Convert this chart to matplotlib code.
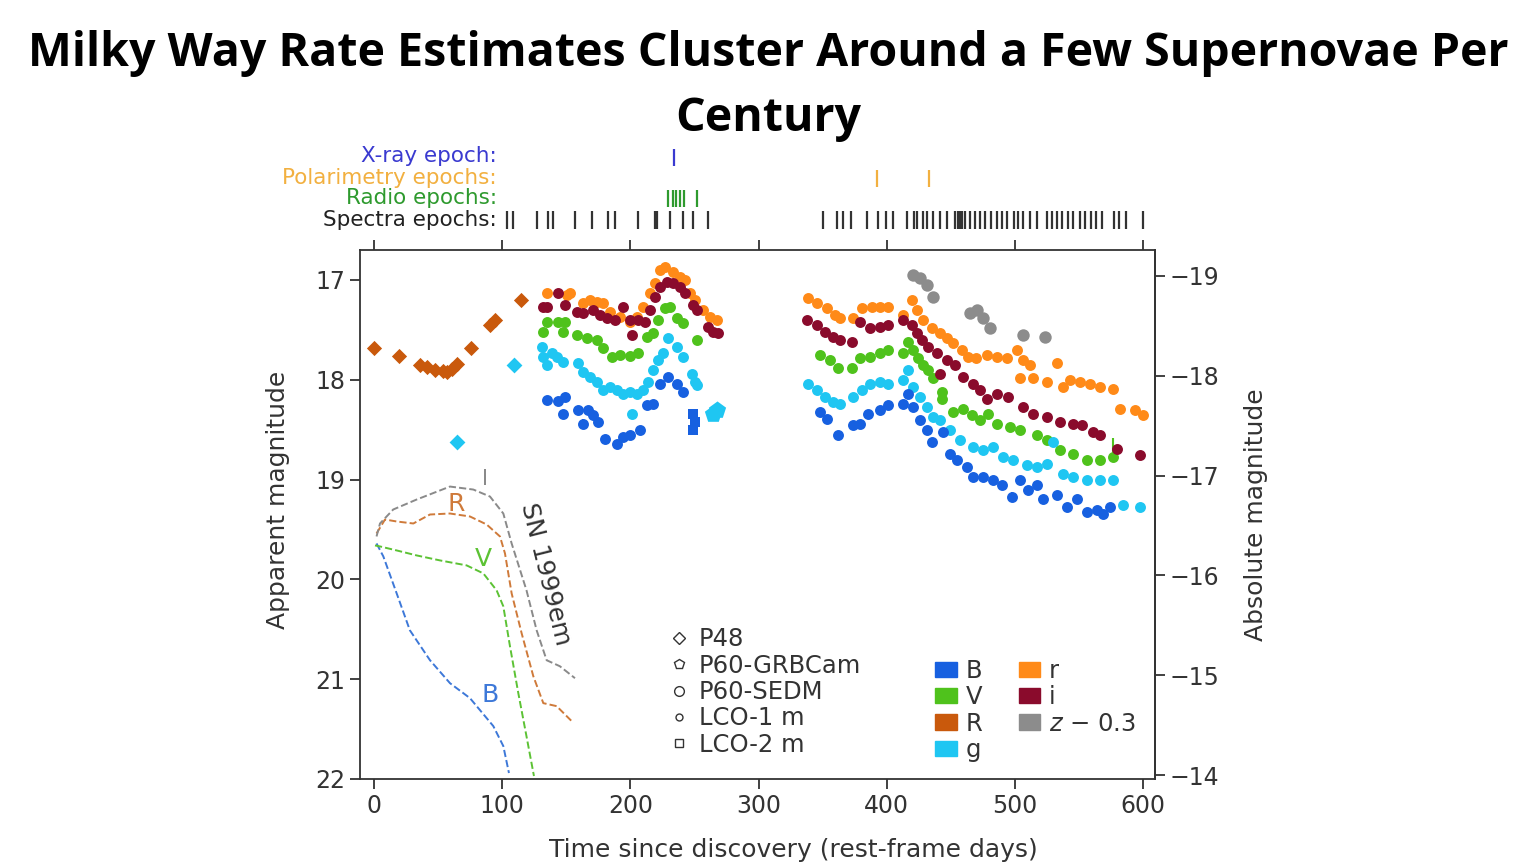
import numpy as np
import matplotlib
matplotlib.use('Agg')
import matplotlib.pyplot as plt
from matplotlib.lines import Line2D
from matplotlib.patches import Patch

plt.rcParams['font.family'] = ['DejaVu Sans']

# ---- photometry (rest-frame days, apparent mag) ----
R_day = [0, 19.8, 36, 41, 47.6, 54, 57, 60.6, 64.5, 75.7, 90.5, 94.4, 115]
R_mag = [17.68, 17.76, 17.85, 17.87, 17.90, 17.91, 17.92, 17.89, 17.84, 17.68, 17.45, 17.40, 17.20]

gP48_day = [64.5, 109]
gP48_mag = [18.62, 17.85]

r_day = [134.7, 150.3, 153, 163.3, 168.5, 173.7, 179, 184, 192, 199.7, 205, 210, 215.3, 219.2,
         223, 227, 233.5, 238.7, 242.6, 246.5, 250.4, 257, 262, 267.4,
         338.9, 345.4, 353.2, 359.7, 363.6, 374, 380.5, 388.3, 394.8, 401.3, 413, 419.5, 423.4,
         428.6, 435, 441.6, 446.8, 452, 458.5, 463.7, 470, 478, 485.8, 493.6, 501.4, 506.6,
         511.8, 504, 514.4, 524.8, 532.6, 537.8, 543, 550.8, 558.6, 566.4, 576.8, 582, 593.7, 600.2]
r_mag = [17.13, 17.15, 17.13, 17.23, 17.20, 17.22, 17.23, 17.32, 17.37, 17.42, 17.37, 17.27, 17.13, 17.03,
         16.90, 16.87, 16.92, 16.97, 17.00, 17.13, 17.20, 17.30, 17.37, 17.40,
         17.18, 17.23, 17.28, 17.35, 17.38, 17.38, 17.28, 17.27, 17.27, 17.27, 17.35, 17.20, 17.30,
         17.40, 17.48, 17.53, 17.58, 17.63, 17.70, 17.77, 17.78, 17.75, 17.77, 17.78, 17.70, 17.80,
         17.85, 17.98, 17.98, 18.02, 17.83, 18.07, 18.00, 18.02, 18.04, 18.07, 18.09, 18.29, 18.30, 18.35]

i_day = [132, 134.7, 143.8, 149, 158, 163.3, 171, 176.3, 181.5, 188, 194.5, 199.7, 201, 206, 211.4,
         215.3, 219.2, 223, 228.4, 233.5, 238.7, 242.6, 249, 251.8, 260.8, 264.8, 268.6,
         337.6, 345.4, 351.9, 358.4, 363.6, 372.7, 379.2, 387, 394.8, 401.3, 413, 419.5, 423.4,
         427.3, 432.5, 439, 441.6, 446.8, 453.3, 459.8, 467.6, 472.8, 478, 485.8, 494.9, 506.6,
         514.4, 524.8, 535.2, 545.6, 552.1, 561.2, 566.4, 579.5, 597.6]
i_mag = [17.27, 17.27, 17.13, 17.25, 17.32, 17.33, 17.30, 17.35, 17.38, 17.40, 17.27, 17.40, 17.55, 17.40, 17.42,
         17.30, 17.17, 17.07, 17.02, 17.03, 17.07, 17.13, 17.25, 17.30, 17.47, 17.52, 17.53,
         17.40, 17.45, 17.52, 17.57, 17.60, 17.62, 17.42, 17.48, 17.47, 17.45, 17.40, 17.45, 17.53,
         17.60, 17.67, 17.73, 17.94, 17.80, 17.85, 17.97, 18.04, 18.10, 18.19, 18.14, 18.17, 18.27,
         18.34, 18.37, 18.42, 18.44, 18.45, 18.52, 18.55, 18.69, 18.75]

V_day = [132, 134.7, 143.8, 149, 147.7, 158, 166, 173.7, 179, 185.4, 192, 199.7, 206, 212.7, 218,
         221.8, 227, 231, 236.2, 241.3, 251.8,
         348, 355.8, 362.3, 372.7, 379.2, 387, 394.8, 401.3, 413, 416.9, 420.8, 424.7, 428.6, 432.5,
         436.4, 442.9, 442.9, 452, 459.8, 466.3, 472.8, 479.3, 485.8, 496.2, 504, 517, 524.8,
         535.2, 545.6, 556, 566.4, 576.8]
V_mag = [17.52, 17.42, 17.42, 17.42, 17.52, 17.55, 17.58, 17.60, 17.68, 17.77, 17.75, 17.76, 17.73, 17.57, 17.53,
         17.40, 17.28, 17.27, 17.38, 17.43, 17.60,
         17.75, 17.80, 17.88, 17.88, 17.78, 17.77, 17.73, 17.70, 17.73, 17.62, 17.70, 17.78, 17.85, 17.90,
         17.98, 18.12, 18.19, 18.32, 18.29, 18.35, 18.40, 18.34, 18.44, 18.47, 18.50, 18.55, 18.60,
         18.70, 18.74, 18.80, 18.80, 18.77]

g_day = [130.8, 132, 134.7, 138.6, 142.5, 147.7, 159.4, 163.3, 168.5, 173.7, 179, 184, 189.3, 194.5,
         199.7, 205, 210, 214, 218, 221.8, 225.7, 229.6, 236.2, 241.3, 201, 247.9, 250.4, 251.8,
         338.9, 345.4, 351.9, 358.4, 363.6, 374, 380.5, 387, 394.8, 401.3, 413, 416.9, 420.8, 426,
         431.2, 436.4, 441.6, 449.4, 457.2, 467.6, 475.5, 483.3, 491.1, 498.9, 509.3, 517.1, 524.8,
         530, 537.8, 545.6, 556, 566.4, 576.8, 584.7, 597.6]
g_mag = [17.67, 17.77, 17.85, 17.73, 17.77, 17.82, 17.83, 17.92, 17.97, 18.02, 18.10, 18.07, 18.10, 18.14,
         18.12, 18.14, 18.10, 18.02, 17.90, 17.80, 17.73, 17.58, 17.67, 17.77, 18.34, 17.94, 18.02, 18.05,
         18.04, 18.10, 18.17, 18.22, 18.24, 18.17, 18.10, 18.04, 18.02, 18.04, 18.00, 17.90, 18.07, 18.17,
         18.27, 18.37, 18.40, 18.50, 18.60, 18.67, 18.70, 18.67, 18.77, 18.80, 18.85, 18.87, 18.84,
         18.62, 18.94, 18.97, 19.00, 19.00, 19.00, 19.25, 19.27]

gP60_day = [264.8, 267.4]
gP60_mag = [18.34, 18.30]

B_day = [134.7, 143.8, 149, 147.7, 159.4, 163.3, 167.2, 171, 175, 180.2, 189.3, 194.5, 199.7, 207.5,
         212.7, 218, 223, 229.6, 236.2, 241.3,
         348, 353.2, 362.3, 374, 379.2, 385.7, 394.8, 401.3, 413, 416.9, 420.8, 426, 431.2, 435.1,
         444.2, 449.4, 454.6, 462.4, 467.6, 475.5, 483.3, 489.8, 497.5, 504, 510.5, 517, 522.2,
         532.6, 540.4, 548.2, 556, 563.8, 569, 574.2]
B_mag = [18.20, 18.21, 18.17, 18.34, 18.30, 18.44, 18.30, 18.35, 18.42, 18.59, 18.64, 18.57, 18.55, 18.50,
         18.25, 18.24, 18.04, 17.97, 18.04, 18.12,
         18.32, 18.39, 18.55, 18.45, 18.44, 18.34, 18.30, 18.25, 18.24, 18.14, 18.27, 18.40, 18.50, 18.62,
         18.52, 18.74, 18.80, 18.87, 18.97, 18.97, 19.00, 19.05, 19.17, 19.00, 19.10, 19.05, 19.19,
         19.15, 19.27, 19.19, 19.32, 19.30, 19.34, 19.27]

BL2_day = [249, 250.4, 249]
BL2_mag = [18.34, 18.42, 18.50]

z_day = [420.8, 426, 431.2, 436.4, 465, 470.2, 475.5, 480.6, 506.6, 523.5]
z_mag = [16.95, 16.98, 17.05, 17.17, 17.33, 17.30, 17.38, 17.48, 17.55, 17.57]

# SN 1999em comparison templates
em_B_day = [2, 7.3, 17.7, 28, 43.7, 59.3, 74.9, 80.1, 93.1, 100.9, 105.3]
em_B_mag = [19.64, 19.77, 20.14, 20.51, 20.81, 21.04, 21.19, 21.27, 21.47, 21.67, 21.94]
em_V_day = [0.8, 4.7, 17.7, 33.3, 51.5, 72.3, 85.3, 95.7, 100.9, 106.1, 112.6, 119.1, 124.8]
em_V_mag = [19.66, 19.67, 19.71, 19.76, 19.81, 19.86, 19.94, 20.11, 20.27, 20.67, 21.14, 21.58, 21.97]
em_R_day = [2, 8.6, 17.7, 30.7, 43.7, 59.3, 74.9, 87.9, 98.3, 102.2, 107.4, 115.2, 124.3, 132.1, 142.5, 154.2]
em_R_mag = [19.54, 19.40, 19.42, 19.44, 19.35, 19.34, 19.37, 19.45, 19.57, 19.74, 20.14, 20.54, 20.97,
            21.24, 21.27, 21.42]
em_I_day = [2, 4.7, 15, 33.3, 59.3, 77.5, 90.5, 100.9, 107.4, 119, 126.9, 134.7, 145, 156.8]
em_I_mag = [19.57, 19.44, 19.30, 19.20, 19.07, 19.10, 19.17, 19.34, 19.64, 20.11, 20.51, 20.81, 20.87, 20.99]

# epochs
spectra_epochs = [103.5, 108.5, 127, 136, 140, 157, 170, 182.6, 188, 206, 219, 221, 231, 241, 249, 260.6,
                  350, 361.5, 366, 372, 385, 393, 399.5, 405, 415.6, 421, 424, 428, 431.7, 436, 441.6,
                  447, 453, 456, 457, 458.5, 461, 465, 469, 473, 477, 481, 486, 490, 493.6, 499, 502.7,
                  506.6, 512, 517, 525, 528.6, 532.7, 537, 541.7, 545.6, 551, 555, 559, 563, 567.7,
                  577, 581.5, 587, 600]
radio_epochs = [229.6, 233, 236, 238.7, 242, 251.8]
polar_epochs = [392.7, 433.3]
xray_epochs = [234.3]

DM = 35.96

cB = '#1760e0'
cV = '#4fc21c'
cR = '#c9590c'
cg = '#1fc6f2'
cr = '#ff8a18'
ci = '#8a0b2c'
cz = '#8c8c8c'
txt = '#333333'

fig = plt.figure(figsize=(15.36, 8.64), dpi=100)
ax = fig.add_axes([360/1536, 85/864, 795/1536, 529/864])

ms = 62
ax.scatter(R_day, R_mag, s=60, marker='D', color=cR, lw=0, zorder=3)
ax.scatter(gP48_day, gP48_mag, s=65, marker='D', color=cg, lw=0, zorder=3)
ax.scatter(r_day, r_mag, s=ms, color=cr, lw=0, zorder=3)
ax.scatter(i_day, i_mag, s=ms, color=ci, lw=0, zorder=4)
ax.scatter(V_day, V_mag, s=ms, color=cV, lw=0, zorder=3)
ax.scatter(g_day, g_mag, s=ms, color=cg, lw=0, zorder=3)
ax.scatter(gP60_day, gP60_mag, s=170, marker='p', color=cg, lw=0, zorder=3)
ax.scatter(B_day, B_mag, s=ms, color=cB, lw=0, zorder=3)
ax.scatter(BL2_day, BL2_mag, s=50, marker='s', color=cB, lw=0, zorder=3)
ax.scatter(z_day, z_mag, s=80, color=cz, lw=0, zorder=3)
ax.errorbar([576.8], [18.70], yerr=[0.12], fmt='none', ecolor=cV, lw=1.5)
ax.errorbar([163.3, 497.5], [18.44, 19.17], yerr=[0.05, 0.05], fmt='none', ecolor=cB, lw=1.5)

ax.plot(em_B_day, em_B_mag, '--', color='#3d78d8', lw=1.4)
ax.plot(em_V_day, em_V_mag, '--', color='#5cc234', lw=1.4)
ax.plot(em_R_day, em_R_mag, '--', color='#cf7a3a', lw=1.4)
ax.plot(em_I_day, em_I_mag, '--', color='#8a8a8a', lw=1.4)
ax.text(64.5, 19.24, 'R', color='#cf7a3a', fontsize=18, ha='center', va='center')
ax.text(85.3, 19.8, 'V', color='#5cc234', fontsize=18, ha='center', va='center')
ax.text(90.5, 21.16, 'B', color='#3d78d8', fontsize=18, ha='center', va='center')
ax.text(86.6, 18.99, 'I', color='#8a8a8a', fontsize=15, ha='center', va='center')
ax.text(134, 19.95, 'SN 1999em', color=txt, fontsize=18, ha='center', va='center', rotation=-76)

ax.set_xlim(-10.9, 609.3)
ax.set_ylim(22, 16.7)
ax.set_xticks([0, 100, 200, 300, 400, 500, 600])
ax.set_yticks([17, 18, 19, 20, 21, 22])
ax.tick_params(direction='out', length=7, width=1.3, colors=txt, labelsize=17, top=True)
for s in ax.spines.values():
    s.set_color(txt)
    s.set_linewidth(1.3)
ax.set_xlabel('Time since discovery (rest-frame days)', fontsize=18, color=txt)
ax.xaxis.set_label_coords(0.545, -0.111)
ax.set_ylabel('Apparent magnitude', fontsize=18, color=txt)
ax.yaxis.set_label_coords(-0.088, 0.527)

sec = ax.secondary_yaxis('right', functions=(lambda m: m - DM, lambda M: M + DM))
sec.set_yticks([-19, -18, -17, -16, -15, -14])
sec.set_yticklabels(['\u221219', '\u221218', '\u221217', '\u221216', '\u221215', '\u221214'])
sec.tick_params(direction='out', length=7, width=1.3, colors=txt, labelsize=17)
sec.spines['right'].set_color(txt)
sec.spines['right'].set_linewidth(1.3)
sec.set_ylabel('Absolute magnitude', fontsize=18, color=txt, labelpad=18)

# epoch rows above the panel
xt = ax.get_xaxis_transform()
ax.vlines(spectra_epochs, 1.040, 1.074, transform=xt, colors='#333333', lw=1.6, clip_on=False)
ax.vlines(radio_epochs, 1.081, 1.113, transform=xt, colors='#2e9a2e', lw=1.6, clip_on=False)
ax.vlines(polar_epochs, 1.119, 1.151, transform=xt, colors='#f2b040', lw=1.6, clip_on=False)
ax.vlines(xray_epochs, 1.159, 1.191, transform=xt, colors='#3a3ad0', lw=1.6, clip_on=False)
for y, lab, c in [(1.057, 'Spectra epochs:', '#222222'), (1.098, 'Radio epochs:', '#2e9a2e'),
                  (1.137, 'Polarimetry epochs:', '#f2b040'), (1.177, 'X-ray epoch:', '#3a3ad0')]:
    ax.text(0.172, y, lab, transform=ax.transAxes, ha='right', va='center', fontsize=15.5, color=c)

# legends
inst = [Line2D([], [], marker='D', ls='', mfc='none', mec=txt, ms=6),
        Line2D([], [], marker='p', ls='', mfc='none', mec=txt, ms=7),
        Line2D([], [], marker='o', ls='', mfc='none', mec=txt, ms=7),
        Line2D([], [], marker='o', ls='', mfc='none', mec=txt, ms=5),
        Line2D([], [], marker='s', ls='', mfc='none', mec=txt, ms=5.5)]
leg1 = ax.legend(inst, ['P48', 'P60-GRBCam', 'P60-SEDM', 'LCO-1 m', 'LCO-2 m'], loc='upper left',
                 bbox_to_anchor=(0.374, 0.31), frameon=False, fontsize=17.5, handlelength=0.8,
                 handletextpad=0.4, labelspacing=0.1, borderpad=0, labelcolor=txt)
ax.add_artist(leg1)
bands = [Patch(color=c) for c in [cB, cV, cR, cg, cr, ci, cz]]
ax.legend(bands, ['B', 'V', 'R', 'g', 'r', 'i', '$z$ \u2212 0.3'], loc='upper left', ncol=2,
          bbox_to_anchor=(0.708, 0.25), frameon=False, fontsize=17.5, handlelength=0.9, handleheight=0.6,
          handletextpad=0.35, labelspacing=0.1, columnspacing=1.5, borderpad=0, labelcolor=txt)

fig.text(0.5, 0.965, 'Milky Way Rate Estimates Cluster Around a Few Supernovae Per\nCentury',
         ha='center', va='top', fontsize=33.5, fontweight='bold', family='Open Sans',
         linespacing=1.5, color='black')

fig.savefig('out.png', dpi=100)
